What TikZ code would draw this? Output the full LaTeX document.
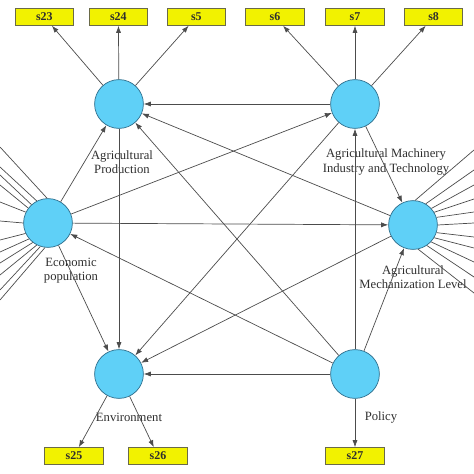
\documentclass[tikz,border=0pt]{standalone}
\usepackage{fontspec}
\setmainfont{Liberation Serif}
\usepackage{xcolor}
\usetikzlibrary{arrows.meta}
\definecolor{latentfill}{HTML}{5FD0F7}
\definecolor{latentline}{HTML}{2F6E8C}
\definecolor{itemfill}{HTML}{F2F200}
\definecolor{itemline}{HTML}{6A6A48}
\definecolor{linkgray}{HTML}{4C4C4C}
\definecolor{textgray}{HTML}{2E2E2E}
\tikzset{
	latent/.style={circle, draw=latentline, fill=latentfill, line width=0.5pt, minimum size=1.22cm, inner sep=0pt},
	item/.style={rectangle, draw=itemline, fill=itemfill, line width=0.5pt, minimum width=1.46cm, minimum height=0.42cm, inner sep=0pt, font=\fontsize{8.5}{10}\selectfont\bfseries, text=textgray},
	caption/.style={align=center, font=\fontsize{9}{10}\selectfont, text=textgray, inner sep=0pt},
	link/.style={draw=linkgray, line width=0.5pt},
	path/.style={link, -{Latex[length=5pt,width=3.6pt]}}
}
\begin{document}
\begin{tikzpicture}
		\useasboundingbox (0,0) rectangle (11.85,11.85);
		\clip (0,0) rectangle (11.85,11.85);
		% latent variables
		\node[latent] (ap) at (2.975,9.25) {};
		\node[latent] (am) at (8.875,9.25) {};
		\node[latent] (ep) at (1.2,6.275) {};
		\node[latent] (aml) at (10.325,6.225) {};
		\node[latent] (env) at (2.975,2.5) {};
		\node[latent] (pol) at (8.875,2.5) {};
		\node[caption] (aplab) at (3.05,7.8) {Agricultural\\Production};
		\node[caption] (amlab) at (9.65,7.8) {Agricultural Machinery\\Industry and Technology};
		\node[caption] (eplab) at (1.775,5.075) {Economic\\population};
		\node[caption] (amllab) at (10.325,4.925) {Agricultural\\Mechanization Level};
		\node[caption] (envlab) at (3.225,1.425) {Environment};
		\node[caption] (pollab) at (9.525,1.425) {Policy};
		% indicators
		\node[item] (s23) at (1.11,11.425) {s23};
		\node[item] (s24) at (2.96,11.425) {s24};
		\node[item] (s5) at (4.91,11.425) {s5};
		\node[item] (s6) at (6.875,11.425) {s6};
		\node[item] (s7) at (8.875,11.425) {s7};
		\node[item] (s8) at (10.84,11.425) {s8};
		\node[item] (s25) at (1.85,0.45) {s25};
		\node[item] (s26) at (3.95,0.45) {s26};
		\node[item] (s27) at (8.875,0.45) {s27};
		\foreach \s in {s23,s24,s5} \draw[path] (ap) -- (\s);
		\foreach \s in {s6,s7,s8} \draw[path] (am) -- (\s);
		\foreach \s in {s25,s26} \draw[path] (env) -- (\s);
		\draw[path] (pol) -- (s27);
		% indicators cut off at the edges
		\foreach \y/\a in {8.175/92,7.675/117,7.475/132,7.225/143,6.8/154,6.325/180,5.85/205,5.55/220,5.275/232,4.975/243,4.6/252,4.35/263}
		{
			\coordinate (epin) at (0,\y);
			\draw[link] (epin) -- (ep.\a);
		}
		\foreach \y/\a in {8.1/85,7.6/59,7.225/42,6.875/31,6.55/18,6.275/0,5.925/-18,5.65/-31,5.3/-43,4.925/-56,4.525/-78}
		{
			\coordinate (amlin) at (11.85,\y);
			\draw[link] (amlin) -- (aml.\a);
		}
		% paths
		\draw[path] (am) -- (ap);
		\draw[path] (ep) -- (ap);
		\draw[path] (ep) -- (am);
		\draw[path] (ep) -- (aml);
		\draw[path] (ep) -- (env);
		\draw[path] (ap) -- (env);
		\draw[path] (am) -- (env);
		\draw[path] (am) -- (aml);
		\draw[path] (aml) -- (ap);
		\draw[path] (aml) -- (env);
		\draw[path] (pol) -- (ap);
		\draw[path] (pol) -- (am);
		\draw[path] (pol) -- (ep);
		\draw[path] (pol) -- (aml);
		\draw[path] (pol) -- (env);
	\end{tikzpicture}
\end{document}
